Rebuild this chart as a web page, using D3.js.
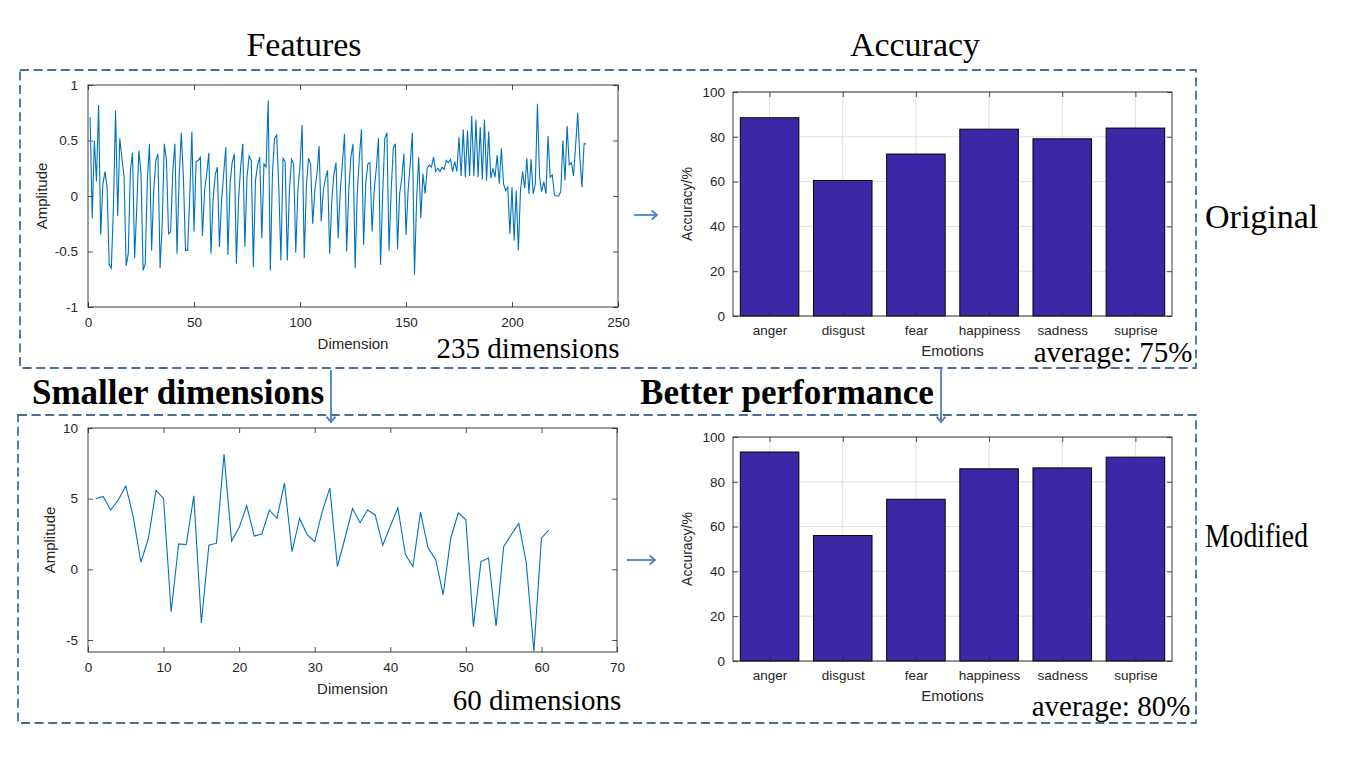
<!DOCTYPE html>
<html><head><meta charset="utf-8">
<script src="https://cdn.jsdelivr.net/npm/d3@7"></script>
<style>body{margin:0;background:#fff}svg{display:block}</style>
</head><body><svg id="c" width="1370" height="772"></svg>
<script>
// ---------- data ----------
const featuresOriginal = [
 0.71,-0.20,0.50,0.13,0.82,-0.35,0.10,0.22,0.08,-0.62,
 -0.65,-0.10,0.77,-0.18,0.52,0.34,0.18,-0.63,-0.52,0.23,
 0.39,-0.56,-0.10,0.41,0.20,-0.67,-0.61,0.14,0.47,-0.49,
 0.05,0.32,0.38,-0.65,-0.25,0.47,0.32,-0.34,-0.32,0.23,
 0.47,-0.52,0.17,0.57,0.17,-0.49,-0.49,0.00,0.58,-0.32,
 0.31,0.32,0.35,-0.36,0.05,0.20,0.39,-0.52,-0.04,0.19,
 0.26,-0.46,-0.04,0.20,0.44,-0.53,0.11,0.30,0.38,-0.61,
 -0.04,0.26,0.47,-0.46,0.17,0.36,0.32,-0.64,0.14,0.28,
 0.35,-0.38,0.29,0.26,0.86,-0.67,0.20,0.52,0.55,0.08,
 -0.58,0.34,0.31,-0.58,0.05,0.33,0.29,-0.51,0.05,0.27,
 0.64,-0.56,0.08,0.34,0.29,-0.25,0.05,0.20,0.45,-0.23,
 0.05,0.16,0.23,-0.52,-0.04,0.20,0.30,-0.38,0.05,0.30,
 0.56,-0.50,0.05,0.35,0.47,-0.65,0.02,0.35,0.60,-0.44,
 0.11,0.29,0.30,-0.32,0.05,0.25,0.52,-0.62,0.02,0.52,
 0.57,-0.49,0.05,0.43,0.47,-0.48,0.02,0.16,0.38,-0.35,
 0.05,0.29,0.57,-0.71,-0.04,0.35,-0.20,0.20,0.02,0.25,
 0.28,0.26,0.35,0.22,0.25,0.22,0.26,0.24,0.32,0.30,
 0.33,0.22,0.31,0.22,0.53,0.18,0.60,0.17,0.59,0.18,
 0.72,0.18,0.69,0.17,0.62,0.15,0.69,0.14,0.58,0.16,
 0.25,0.17,0.37,0.11,0.43,0.11,0.05,0.08,-0.34,0.08,
 -0.40,0.05,-0.49,0.05,0.22,0.07,0.34,0.02,0.33,0.02,
 0.11,0.83,0.17,0.04,0.13,0.02,0.54,0.17,0.19,0.01,
 0.00,0.00,0.04,0.50,0.14,0.63,0.28,0.30,0.18,0.45,
 0.75,0.35,0.08,0.47,0.47
];
const featuresModified = [
 5.0,5.16,4.2,4.9,5.9,3.7,0.5,2.2,5.6,5.0,
 -3.0,1.8,1.75,5.2,-3.8,1.7,1.85,8.15,2.0,2.95,
 4.5,2.35,2.5,4.2,3.6,6.1,1.25,3.6,2.45,1.95,
 4.1,5.75,0.2,2.2,4.3,3.3,4.2,3.85,1.7,3.05,
 4.35,1.05,0.2,4.05,1.5,0.7,-1.8,2.2,4.0,3.5,
 -4.05,0.55,0.8,-4.0,1.6,2.45,3.25,0.45,-5.8,2.2,
 2.8
];
const emotions = ["anger","disgust","fear","happiness","sadness","suprise"];
const accOriginal = [88.5,60.5,72.3,83.4,79.1,83.9];
const accModified = [93.3,56.0,72.2,85.8,86.2,91.0];
const xTicksOriginal = [0,50,100,150,200,250];
const yTicksOriginal = [-1,-0.5,0,0.5,1];
const xTicksModified = [0,10,20,30,40,50,60,70];
const yTicksModified = [-5,0,5,10];
const accTicks = [0,20,40,60,80,100];

// ---------- drawing ----------
const svg = d3.select("#c");
const SANS = "'Liberation Sans', Arial, Helvetica, sans-serif";
const SERIF = "'Liberation Serif', 'Times New Roman', serif";
const AX = "#262626";
const fmt = d => String(d);

function styleAxis(g){
  g.select(".domain").remove();
  g.selectAll(".tick line").attr("stroke", AX).attr("stroke-width",0.8);
  g.selectAll(".tick text").attr("fill", AX).attr("font-family", SANS).attr("font-size", 13.5);
}

function frame(g, x, y){
  const [l,r] = x.range(), [b,t] = y.range();
  g.append("rect").attr("x",l).attr("y",t).attr("width",r-l).attr("height",b-t)
    .attr("fill","none").attr("stroke",AX).attr("stroke-width",0.9);
}

function drawLineChart(cfg){
  const g = svg.append("g");
  const x = d3.scaleLinear().domain(cfg.xDomain).range([cfg.left, cfg.right]);
  const y = d3.scaleLinear().domain(cfg.yDomain).range([cfg.bottom, cfg.top]);
  const ax = g.append("g").attr("transform",`translate(0,${cfg.bottom})`)
    .call(d3.axisBottom(x).tickValues(cfg.xTicks).tickFormat(fmt).tickSizeInner(-5).tickSizeOuter(0).tickPadding(10));
  styleAxis(ax);
  const axT = g.append("g").attr("transform",`translate(0,${cfg.top})`)
    .call(d3.axisTop(x).tickValues(cfg.xTicks).tickFormat("").tickSizeInner(-5).tickSizeOuter(0));
  styleAxis(axT);
  const ay = g.append("g").attr("transform",`translate(${cfg.left},0)`)
    .call(d3.axisLeft(y).tickValues(cfg.yTicks).tickFormat(fmt).tickSizeInner(-5).tickSizeOuter(0).tickPadding(10));
  styleAxis(ay);
  const ayR = g.append("g").attr("transform",`translate(${cfg.right},0)`)
    .call(d3.axisRight(y).tickValues(cfg.yTicks).tickFormat("").tickSizeInner(-5).tickSizeOuter(0));
  styleAxis(ayR);
  frame(g, x, y);
  g.append("path").datum(cfg.data)
    .attr("fill","none").attr("stroke","#0072BD").attr("stroke-width",1.1)
    .attr("d", d3.line().x((d,i)=>x(i+1)).y(d=>y(d)));
  g.append("text").attr("x",(cfg.left+cfg.right)/2).attr("y",cfg.xlabelY)
    .attr("text-anchor","middle").attr("font-family",SANS).attr("font-size",15).attr("fill",AX).text("Dimension");
  g.append("text").attr("transform",`translate(${cfg.ylabelX},${cfg.ylabelYc}) rotate(-90)`)
    .attr("text-anchor","middle").attr("font-family",SANS).attr("font-size",15).attr("fill",AX).text("Amplitude");
}

function drawBarChart(cfg){
  const g = svg.append("g");
  const x = d3.scaleLinear().domain([0.5, emotions.length+0.5]).range([cfg.left, cfg.right]);
  const y = d3.scaleLinear().domain([0,100]).range([cfg.bottom, cfg.top]);
  const band = x(2)-x(1);
  const cats = emotions.map((e,i)=>i+1);
  g.append("g").selectAll("line").data(accTicks).join("line")
    .attr("x1",cfg.left).attr("x2",cfg.right).attr("y1",d=>y(d)).attr("y2",d=>y(d))
    .attr("stroke","#dedede").attr("stroke-width",1);
  g.append("g").selectAll("line").data(cats).join("line")
    .attr("x1",d=>x(d)).attr("x2",d=>x(d)).attr("y1",cfg.top).attr("y2",cfg.bottom)
    .attr("stroke","#dedede").attr("stroke-width",1);
  g.append("g").selectAll("rect").data(cfg.data).join("rect")
    .attr("x",(d,i)=>x(i+1)-0.4*band).attr("width",0.8*band)
    .attr("y",d=>y(d)).attr("height",d=>y(0)-y(d))
    .attr("fill","#3D27A6").attr("stroke","#000").attr("stroke-width",1);
  const ax = g.append("g").attr("transform",`translate(0,${cfg.bottom})`)
    .call(d3.axisBottom(x).tickValues(cats).tickFormat(d=>emotions[d-1]).tickSizeInner(-5).tickSizeOuter(0).tickPadding(9));
  styleAxis(ax);
  const axT = g.append("g").attr("transform",`translate(0,${cfg.top})`)
    .call(d3.axisTop(x).tickValues(cats).tickFormat("").tickSizeInner(-5).tickSizeOuter(0));
  styleAxis(axT);
  const ay = g.append("g").attr("transform",`translate(${cfg.left},0)`)
    .call(d3.axisLeft(y).tickValues(accTicks).tickFormat(fmt).tickSizeInner(-5).tickSizeOuter(0).tickPadding(8));
  styleAxis(ay);
  const ayR = g.append("g").attr("transform",`translate(${cfg.right},0)`)
    .call(d3.axisRight(y).tickValues(accTicks).tickFormat("").tickSizeInner(-5).tickSizeOuter(0));
  styleAxis(ayR);
  frame(g, x, y);
  g.append("text").attr("x",(cfg.left+cfg.right)/2).attr("y",cfg.xlabelY)
    .attr("text-anchor","middle").attr("font-family",SANS).attr("font-size",15).attr("fill",AX).text("Emotions");
  g.append("text").attr("transform",`translate(${cfg.ylabelX},${(cfg.top+cfg.bottom)/2}) rotate(-90)`)
    .attr("text-anchor","middle").attr("font-family",SANS).attr("font-size",14).attr("fill",AX).text("Accuracy/%");
}

drawLineChart({data:featuresOriginal, xDomain:[0,250], yDomain:[-1,1], xTicks:xTicksOriginal, yTicks:yTicksOriginal,
  left:88, right:618, top:85, bottom:307, xlabelY:349, ylabelX:47, ylabelYc:196});
drawLineChart({data:featuresModified, xDomain:[0,70], yDomain:[-5.85,10], xTicks:xTicksModified, yTicks:yTicksModified,
  left:88, right:617, top:428, bottom:652, xlabelY:694, ylabelX:55, ylabelYc:540});
drawBarChart({data:accOriginal, left:733, right:1172, top:92, bottom:316, xlabelY:356, ylabelX:692});
drawBarChart({data:accModified, left:733, right:1172, top:437, bottom:661, xlabelY:701, ylabelX:692});

// dashed boxes
const dash = "9,4.6";
svg.append("rect").attr("x",20).attr("y",70).attr("width",1176).attr("height",298)
  .attr("fill","none").attr("stroke","#46709A").attr("stroke-width",1.8).attr("stroke-dasharray",dash);
svg.append("rect").attr("x",18).attr("y",415).attr("width",1178).attr("height",308)
  .attr("fill","none").attr("stroke","#46709A").attr("stroke-width",1.8).attr("stroke-dasharray",dash);

// arrows
const ARC = "#4F7FC6";
function arrow(x1,y1,x2,y2){
  svg.append("line").attr("x1",x1).attr("y1",y1).attr("x2",x2).attr("y2",y2)
    .attr("stroke",ARC).attr("stroke-width",1.8);
  const a = Math.atan2(y2-y1,x2-x1), L=7, w=0.7;
  const p1=[x2-L*Math.cos(a-w), y2-L*Math.sin(a-w)], p2=[x2-L*Math.cos(a+w), y2-L*Math.sin(a+w)];
  svg.append("path").attr("d",`M${p1}L${x2},${y2}L${p2}`).attr("fill","none")
    .attr("stroke",ARC).attr("stroke-width",1.8);
}
arrow(634,215,657,215);
arrow(627,560,655,560);
arrow(331,370,331,422);
arrow(941,368,941,422);

// texts
function txt(x,y,s,size,opts={}){
  const t = svg.append("text").attr("x",x).attr("y",y).attr("text-anchor",opts.anchor||"middle")
    .attr("font-family",opts.font||SERIF).attr("font-size",size)
    .attr("font-weight",opts.bold?"bold":"normal").attr("fill","#000").text(s);
  if (opts.len) t.attr("textLength",opts.len).attr("lengthAdjust","spacingAndGlyphs");
}
txt(304,56,"Features",34);
txt(915,56,"Accuracy",34);
txt(1205,228,"Original",34,{anchor:"start"});
txt(1205,547,"Modified",34,{anchor:"start", len:103});
txt(178,404,"Smaller dimensions",35,{bold:true});
txt(787,404,"Better performance",35,{bold:true});
txt(528,358,"235 dimensions",29);
txt(537,710,"60 dimensions",29);
txt(1113,362,"average: 75%",29);
txt(1111,716,"average: 80%",29);
</script></body></html>
